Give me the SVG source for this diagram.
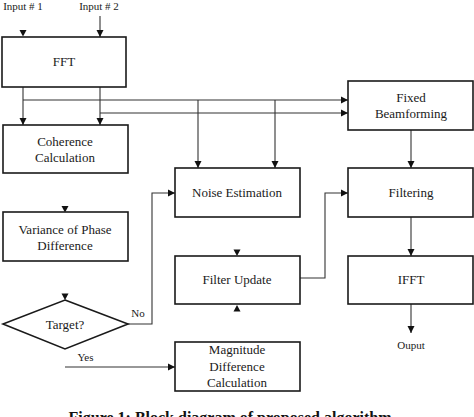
<svg xmlns="http://www.w3.org/2000/svg" width="474" height="417" viewBox="0 0 474 417">
<style>
.box{fill:#fff;stroke:#1a1a1a;stroke-width:1.6}
.t{font-family:"Liberation Serif","DejaVu Serif",serif;font-size:13px;fill:#1a1a1a;text-anchor:middle}
.s{font-family:"Liberation Serif","DejaVu Serif",serif;font-size:11px;fill:#1a1a1a;text-anchor:middle}
.c{fill:none;stroke:#333;stroke-width:1.1}
.ah{fill:#111}
.cap{font-family:"Liberation Serif","DejaVu Serif",serif;font-size:16px;font-weight:bold;fill:#111;text-anchor:middle}
</style>
<defs>
<marker id="arr" markerUnits="userSpaceOnUse" markerWidth="8" markerHeight="8" refX="7" refY="4" orient="auto">
<path d="M0,0.5 L7,4 L0,7.5 Z" fill="#111"/>
</marker>
</defs>
<rect width="474" height="417" fill="#fff"/>
<g id="connectors">
<line class="c" x1="100" y1="16" x2="100" y2="37" marker-end="url(#arr)"/>
<line class="c" x1="23" y1="87" x2="23" y2="125" marker-end="url(#arr)"/>
<line class="c" x1="100" y1="87" x2="100" y2="125" marker-end="url(#arr)"/>
<line class="c" x1="23" y1="100" x2="348" y2="100" marker-end="url(#arr)"/>
<line class="c" x1="100" y1="113" x2="348" y2="113" marker-end="url(#arr)"/>
<line class="c" x1="198" y1="100" x2="198" y2="168" marker-end="url(#arr)"/>
<line class="c" x1="275" y1="100" x2="275" y2="168" marker-end="url(#arr)"/>
<line class="c" x1="411" y1="130" x2="411" y2="168" marker-end="url(#arr)"/>
<line class="c" x1="411" y1="217" x2="411" y2="256" marker-end="url(#arr)"/>
<line class="c" x1="411" y1="304" x2="411" y2="333" marker-end="url(#arr)"/>
<path class="c" d="M128,324 H152 V193 H175" marker-end="url(#arr)"/>
<path class="c" d="M300,278 H325 V193 H348" marker-end="url(#arr)"/>
<line class="c" x1="65" y1="367" x2="175" y2="367" marker-end="url(#arr)"/>
<path class="ah" d="M19.5,30 L26.5,30 L23,36.5 Z"/>
<path class="ah" d="M61.5,206 L68.5,206 L65,212.5 Z"/>
<path class="ah" d="M233.5,249.5 L240.5,249.5 L237,256 Z"/>
<path class="ah" d="M233.5,311.5 L240.5,311.5 L237,305 Z"/>
<path class="ah" d="M61.5,293.5 L68.5,293.5 L65,300 Z"/>
<text class="s" x="138" y="317">No</text>
<text class="s" x="85.5" y="361">Yes</text>
</g>
<g id="input1"><text class="s" x="23" y="10">Input # 1</text></g>
<g id="input2"><text class="s" x="99" y="10">Input # 2</text></g>
<g id="fft"><rect class="box" x="2" y="37" width="124" height="50"/><text class="t" x="64" y="66">FFT</text></g>
<g id="coherence"><rect class="box" x="3" y="125" width="125" height="48"/><text class="t" x="65" y="146">Coherence</text><text class="t" x="65" y="162">Calculation</text></g>
<g id="variance"><rect class="box" x="3" y="212" width="125" height="49"/><text class="t" x="65" y="234">Variance of Phase</text><text class="t" x="65" y="250">Difference</text></g>
<g id="target"><polygon class="box" points="65,300 128,324 65,349 3,324"/><text class="t" x="65" y="329">Target?</text></g>
<g id="noise"><rect class="box" x="175" y="168" width="125" height="49"/><text class="t" x="237" y="197">Noise Estimation</text></g>
<g id="filterupdate"><rect class="box" x="175" y="256" width="125" height="48"/><text class="t" x="237" y="284">Filter Update</text></g>
<g id="magnitude"><rect class="box" x="175" y="342" width="125" height="49"/><text class="t" x="237" y="354">Magnitude</text><text class="t" x="237" y="371">Difference</text><text class="t" x="237" y="387">Calculation</text></g>
<g id="fixed"><rect class="box" x="348" y="81" width="125" height="49"/><text class="t" x="411" y="102">Fixed</text><text class="t" x="411" y="118">Beamforming</text></g>
<g id="filtering"><rect class="box" x="348" y="168" width="125" height="49"/><text class="t" x="411" y="197">Filtering</text></g>
<g id="ifft"><rect class="box" x="348" y="256" width="125" height="48"/><text class="t" x="411" y="284">IFFT</text></g>
<g id="output"><text class="s" x="411" y="349">Ouput</text></g>
<g id="caption"><text class="cap" x="230" y="423">Figure 1: Block diagram of proposed algorithm</text></g>
</svg>
